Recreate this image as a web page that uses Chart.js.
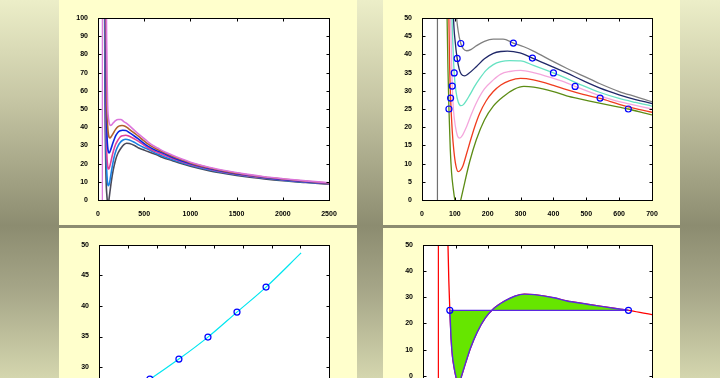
<!DOCTYPE html>
<html lang="en">
<head>
<meta charset="UTF-8">
<title>Isotherms</title>
<script src="https://cdn.jsdelivr.net/npm/chart.js"></script>
<style>
  html, body { margin: 0; padding: 0; }
  body {
    width: 720px; height: 378px; overflow: hidden; position: relative;
    background: linear-gradient(to bottom, #eceec8 0px, #c6c6a4 100px, #8c8c70 226px, #a6a688 290px, #d4d6ae 378px);
  }
  .panel { position: absolute; height: 225px; background: #ffffcc; }
  .panel canvas { display: block; }
</style>
</head>
<body>
<div class="panel" style="left:59px;top:0;width:298px"><canvas id="tl" width="298" height="225"></canvas></div>
<div class="panel" style="left:383px;top:0;width:297px"><canvas id="tr" width="297" height="225"></canvas></div>
<div class="panel" style="left:59px;top:228px;width:298px"><canvas id="bl" width="298" height="225"></canvas></div>
<div class="panel" style="left:383px;top:228px;width:297px"><canvas id="br" width="297" height="225"></canvas></div>

<script>
// isotherms, [volume, pressure] (top curve first)
const isoGray = [[88,120],[93,90],[98,68],[104,52],[110,46.5],[118,43.0],[126,41.5],[136,41.0],[150,41.4],[166,42.4],[190,43.6],[217,44.2],[247,44.2],[278,43.1],[310,42.1],[339,40.9],[400,38.0],[440,36.2],[490,34.1],[540,32.0],[600,29.8],[650,28.4],[700,27.0],
  [800,24.7],[900,22.6],[1000,20.8],[1200,18.0],[1400,15.9],[1600,14.2],[1800,12.8],[2000,11.7],[2250,10.5],[2500,9.5]];
const isoNavy = [[84,120],[88,90],[92,66],[96,50],[101,43.5],[107,38.9],[113,36.0],[120,34.5],[130,34.1],[140,34.6],[166,36.7],[190,38.8],[217,40.3],[240,40.8],[260,40.9],[298,40.4],[336,39.0],[400,36.5],[440,34.9],[490,32.8],[540,30.8],[600,28.9],[650,27.6],[700,26.5],
  [800,24.2],[900,22.2],[1000,20.4],[1200,17.7],[1400,15.6],[1600,14.0],[1800,12.6],[2000,11.5],[2250,10.3],[2500,9.3]];
const isoAqua = [[80,120],[84,85],[88,62],[92,48],[98,34.8],[104,29.5],[110,27.0],[118,25.9],[126,26.2],[135,27.3],[145,28.8],[160,31.2],[176,33.4],[195,35.6],[217,37.2],[240,38.0],[267,38.3],[300,38.2],[339,37.0],[400,34.9],[440,33.4],[490,31.4],[540,29.6],[600,27.9],[650,26.8],[700,25.8],
  [800,23.5],[900,21.6],[1000,19.9],[1200,17.3],[1400,15.3],[1600,13.7],[1800,12.4],[2000,11.3],[2250,10.1],[2500,9.2]];
const isoPink = [[78,120],[82,80],[86,55],[89,42],[92,31.3],[96,24.5],[102,20.0],[108,17.6],[115,17.0],[122,17.6],[135,20.0],[150,23.5],[166,26.8],[190,30.5],[217,33.0],[240,34.6],[267,35.3],[300,35.6],[339,35.0],[400,33.4],[440,32.2],[466,31.2],[540,28.7],[600,27.0],[650,26.0],[700,25.0],
  [800,22.9],[900,21.1],[1000,19.5],[1200,17.0],[1400,15.0],[1600,13.5],[1800,12.2],[2000,11.1],[2250,10.0],[2500,9.0]];
const isoRed = [[75,120],[78,80],[81,55],[84,37],[87,28.0],[92,19.0],[97,13.5],[103,9.5],[110,7.8],[118,8.3],[125,9.5],[135,12.5],[145,15.6],[160,20.0],[176,23.9],[195,27.2],[217,29.8],[240,31.6],[267,32.8],[300,33.4],[339,33.0],[400,31.5],[440,30.3],[490,29.0],[542,27.9],[600,26.3],[650,25.1],[700,24.1],
  [800,22.3],[900,20.6],[1000,19.1],[1200,16.6],[1400,14.7],[1600,13.2],[1800,12.0],[2000,10.9],[2250,9.8],[2500,8.9]];
const isoGreen = [[70,120],[73,80],[76,52],[79,36],[82,25.0],[86,14.0],[90,7.5],[95,3.2],[100,0],[106,-2.5],[112,-2.5],[118,0],[130,4.8],[145,10.5],[165,16.5],[190,22.0],[217,25.8],[250,28.6],[280,30.4],[310,31.2],[340,31.0],[400,29.8],[440,28.6],[490,27.6],[540,26.6],[600,25.5],[628,25.0],[700,23.4],
  [800,21.7],[900,20.0],[1000,18.5],[1200,16.1],[1400,14.3],[1600,12.8],[1800,11.6],[2000,10.6],[2250,9.6],[2500,8.7]];

// vertical asymptote
const asymV = 47;

// marked liquid / vapour states
const circleV = [82, 87, 92, 98, 107, 118, 278, 336, 400, 466, 542, 628];
const circleP = [25.0, 28.0, 31.3, 34.9, 38.9, 43.0, 43.1, 39.0, 34.9, 31.2, 28.0, 25.0];

// vapour pressure curve (bottom left)
const vpT = [0.77, 1.77, 2.78, 3.79, 4.8, 5.81];
const vpP = [25.0, 28.0, 31.3, 34.9, 39.0, 43.1];
const vpLineT = [0.77, 1.77, 2.78, 3.79, 4.8, 5.81, 7.03];
const vpLineP = [25.0, 28.0, 31.3, 34.9, 39.0, 43.1, 48.7];

// equal-area line (bottom right)
const eqP = 25;
const eqV = [82, 628];

const pts = arr => arr.map(([x, y]) => ({x, y}));
const zip = (xs, ys) => xs.map((x, i) => ({x, y: ys[i]}));

const isotherms = [isoGray, isoNavy, isoAqua, isoPink, isoRed, isoGreen];
const tlColors = ['#dc74dc', '#b0602c', '#0a26e0', '#e0409c', '#1c80e2', '#4a4a5a'];
const trColors = ['#808080', '#202868', '#66e2c2', '#f4a6dc', '#f03c1e', '#5c8c14'];

const frame = {
  id: 'frame',
  beforeDraw(chart) {
    const {ctx, chartArea: a} = chart;
    ctx.save();
    ctx.fillStyle = '#ffffff';
    ctx.fillRect(a.left, a.top, a.width, a.height);
    ctx.restore();
  },
  afterDraw(chart) {
    const {ctx, chartArea: a, scales} = chart;
    const L = Math.round(a.left) + 0.5, R = Math.round(a.right) + 0.5;
    const T = Math.round(a.top) + 0.5, B = Math.round(a.bottom) + 0.5;
    ctx.save();
    ctx.strokeStyle = '#000';
    ctx.lineWidth = 1;
    ctx.strokeRect(L, T, R - L, B - T);
    ctx.beginPath();
    scales.x.ticks.forEach(t => {
      const px = Math.round(scales.x.getPixelForValue(t.value)) + 0.5;
      ctx.moveTo(px, B); ctx.lineTo(px, B - 3);
      ctx.moveTo(px, T); ctx.lineTo(px, T + 3);
    });
    scales.y.ticks.forEach(t => {
      const py = Math.round(scales.y.getPixelForValue(t.value)) + 0.5;
      ctx.moveTo(L, py); ctx.lineTo(L + 3, py);
      ctx.moveTo(R, py); ctx.lineTo(R - 3, py);
    });
    ctx.stroke();
    ctx.restore();
  }
};

function options(x, y, left, top) {
  const font = {family: 'Liberation Sans', size: 7, weight: 'bold'};
  return {
    responsive: false,
    animation: false,
    layout: {padding: {top: top, right: 28, left: 0, bottom: 0}},
    plugins: {legend: {display: false}, tooltip: {enabled: false}},
    elements: {point: {radius: 0}},
    scales: {
      x: {
        type: 'linear', min: x[0], max: x[1],
        grid: {display: false}, border: {display: false},
        ticks: {stepSize: x[2], color: '#000', font, padding: 2, maxRotation: 0, callback: v => String(v)},
        afterFit: s => { s.height = 25; }
      },
      y: {
        type: 'linear', min: y[0], max: y[1],
        grid: {display: false}, border: {display: false},
        ticks: {stepSize: y[2], color: '#000', font, padding: 2, callback: v => String(v)},
        afterFit: s => { s.width = left; }
      }
    }
  };
}

function curve(data, color, width) {
  return {data: pts(data), borderColor: color, borderWidth: width, fill: false,
    cubicInterpolationMode: 'monotone', pointRadius: 0};
}

function vline(color) {
  return {data: [{x: asymV, y: -40}, {x: asymV, y: 200}], borderColor: color, borderWidth: 1.2, pointRadius: 0};
}

function circles(xs, ys) {
  return {data: zip(xs, ys), showLine: false, pointRadius: 3, pointBorderWidth: 1.2,
    pointBorderColor: '#0000ff', pointBackgroundColor: 'rgba(0,0,0,0)', borderColor: '#0000ff'};
}

// top left: full range
new Chart(document.getElementById('tl'), {
  type: 'line',
  data: {datasets: [
    ...isotherms.map((c, i) => curve(c, tlColors[i], 1.6)),
    vline('#dc74dc')
  ]},
  options: options([0, 2500, 500], [0, 100, 10], 39, 18),
  plugins: [frame]
});

// top right: zoomed with liquid/vapour points
new Chart(document.getElementById('tr'), {
  type: 'line',
  data: {datasets: [
    circles(circleV, circleP),
    ...isotherms.map((c, i) => curve(c, trColors[i], 1.3)),
    vline('#707070')
  ]},
  options: options([0, 700, 100], [0, 50, 5], 39, 18),
  plugins: [frame]
});

// bottom left: vapour pressure curve
new Chart(document.getElementById('bl'), {
  type: 'line',
  data: {datasets: [
    circles(vpT, vpP),
    {data: zip(vpLineT, vpLineP), borderColor: '#00e6f0', borderWidth: 1.2, pointRadius: 0, cubicInterpolationMode: 'monotone'}
  ]},
  options: options([0, 8, 1], [20, 50, 5], 40, 17),
  plugins: [frame]
});

// bottom right: equal-area construction
const segment = isoGreen.filter(p => p[0] >= eqV[0] && p[0] <= eqV[1]);
new Chart(document.getElementById('br'), {
  type: 'line',
  data: {datasets: [
    circles(eqV, [eqP, eqP]),
    {data: zip(eqV, [eqP, eqP]), borderColor: '#5a28e0', borderWidth: 1.4, pointRadius: 0},
    {data: pts(segment), borderColor: '#5a28e0', borderWidth: 1.4, backgroundColor: '#66e600',
      fill: {value: eqP}, pointRadius: 0, cubicInterpolationMode: 'monotone'},
    curve(isoGreen, '#ff0000', 1.3),
    vline('#ff0000')
  ]},
  options: options([0, 700, 100], [-20, 50, 10], 40, 17),
  plugins: [frame]
});
</script>
</body>
</html>
